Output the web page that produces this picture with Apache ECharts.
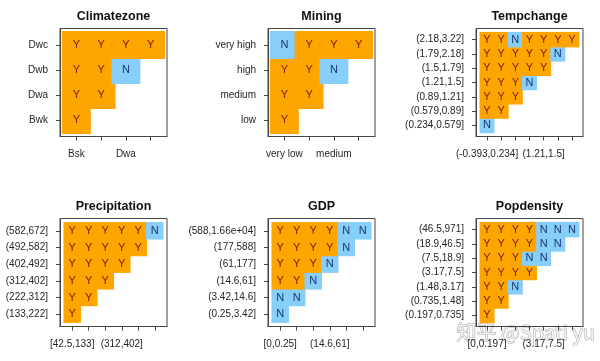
<!DOCTYPE html>
<html>
<head>
<meta charset="utf-8">
<script src="https://cdn.jsdelivr.net/npm/echarts@6/dist/echarts.min.js"></script>
<style>
html,body{margin:0;padding:0;background:#fff;}
#chart{width:600px;height:361px;}
</style>
</head>
<body>
<div id="chart"></div>
<script>
// ---- data (rows listed bottom to top; cells per row left to right) ----
const climTitle = 'Climatezone';
const climCols = ['Bsk', 'Bwk', 'Dwa', 'Dwb'];
const climRows = ['Bwk', 'Dwa', 'Dwb', 'Dwc'];
const climCells = [['Y'], ['Y', 'Y'], ['Y', 'Y', 'N'], ['Y', 'Y', 'Y', 'Y']];

const miningTitle = 'Mining';
const miningCols = ['very low', 'low', 'medium', 'high'];
const miningRows = ['low', 'medium', 'high', 'very high'];
const miningCells = [['Y'], ['Y', 'Y'], ['Y', 'Y', 'N'], ['N', 'Y', 'Y', 'Y']];

const tempTitle = 'Tempchange';
const tempCols = ['(-0.393,0.234]', '(0.234,0.579]', '(0.579,0.89]', '(0.89,1.21]', '(1.21,1.5]', '(1.5,1.79]', '(1.79,2.18]'];
const tempRows = ['(0.234,0.579]', '(0.579,0.89]', '(0.89,1.21]', '(1.21,1.5]', '(1.5,1.79]', '(1.79,2.18]', '(2.18,3.22]'];
const tempCells = [['N'], ['Y', 'Y'], ['Y', 'Y', 'Y'], ['Y', 'Y', 'Y', 'N'], ['Y', 'Y', 'Y', 'Y', 'Y'], ['Y', 'Y', 'Y', 'Y', 'Y', 'N'], ['Y', 'Y', 'N', 'Y', 'Y', 'Y', 'Y']];

const precTitle = 'Precipitation';
const precCols = ['[42.5,133]', '(133,222]', '(222,312]', '(312,402]', '(402,492]', '(492,582]'];
const precRows = ['(133,222]', '(222,312]', '(312,402]', '(402,492]', '(492,582]', '(582,672]'];
const precCells = [['Y'], ['Y', 'Y'], ['Y', 'Y', 'Y'], ['Y', 'Y', 'Y', 'Y'], ['Y', 'Y', 'Y', 'Y', 'Y'], ['Y', 'Y', 'Y', 'Y', 'Y', 'N']];

const gdpTitle = 'GDP';
const gdpCols = ['[0,0.25]', '(0.25,3.42]', '(3.42,14.6]', '(14.6,61]', '(61,177]', '(177,588]'];
const gdpRows = ['(0.25,3.42]', '(3.42,14.6]', '(14.6,61]', '(61,177]', '(177,588]', '(588,1.66e+04]'];
const gdpCells = [['N'], ['N', 'N'], ['Y', 'Y', 'N'], ['Y', 'Y', 'Y', 'N'], ['Y', 'Y', 'Y', 'Y', 'N'], ['Y', 'Y', 'Y', 'Y', 'N', 'N']];

const popTitle = 'Popdensity';
const popCols = ['[0,0.197]', '(0.197,0.735]', '(0.735,1.48]', '(1.48,3.17]', '(3.17,7.5]', '(7.5,18.9]', '(18.9,46.5]'];
const popRows = ['(0.197,0.735]', '(0.735,1.48]', '(1.48,3.17]', '(3.17,7.5]', '(7.5,18.9]', '(18.9,46.5]', '(46.5,971]'];
const popCells = [['Y'], ['Y', 'Y'], ['Y', 'Y', 'N'], ['Y', 'Y', 'Y', 'Y'], ['Y', 'Y', 'Y', 'N', 'N'], ['Y', 'Y', 'Y', 'Y', 'N', 'N'], ['Y', 'Y', 'Y', 'Y', 'N', 'N', 'N']];

// x labels R left visible (1-based positions)
const climShown = [1, 3];
const miningShown = [1, 3];
const tempShown = [1, 5];
const precShown = [1, 4];
const gdpShown = [1, 4];
const popShown = [1, 5];

// ---- styling / layout ----
const colYes = '#FFA500';
const colNo = '#87CEFA';
const txtYes = '#7a1f00';
const txtNo = '#1c3770';
const gridLefts = [60, 268, 476];
const gridTops = [28.5, 218.5];
const boxW = 107, boxH = 108;

const panels = [
  [climTitle, climCols, climRows, climCells, climShown, [29, 28]],
  [miningTitle, miningCols, miningRows, miningCells, miningShown, [29, 28]],
  [tempTitle, tempCols, tempRows, tempCells, tempShown, [15, 15.5]],
  [precTitle, precCols, precRows, precCells, precShown, [17.5, 17.5]],
  [gdpTitle, gdpCols, gdpRows, gdpCells, gdpShown, [17.5, 17.5]],
  [popTitle, popCols, popRows, popCells, popShown, [15, 15.5]]
];

const titles = [], grids = [], xAxes = [], yAxes = [], series = [];
panels.forEach((p, i) => {
  const [title, cols, rows, cells, shown, size] = p;
  const n = rows.length;
  const left = gridLefts[i % 3], top = gridTops[Math.floor(i / 3)];
  const ext = 0.04 * n;
  const ticks = [];
  for (let k = 1; k <= n; k++) ticks.push(k);
  titles.push({
    text: title, left: left + boxW / 2, top: top - 18, textAlign: 'center', padding: 0,
    textStyle: { fontFamily: 'Liberation Sans, Arial, sans-serif', fontSize: 12.5, fontWeight: 'bold', color: '#111' }
  });
  grids.push({ left: left, top: top, width: boxW, height: boxH, show: true, borderColor: '#444', borderWidth: 1, backgroundColor: 'transparent' });
  const common = {
    type: 'value', gridIndex: i, min: 0.5 - ext, max: n + 0.5 + ext,
    splitLine: { show: false },
    axisLine: { show: true, lineStyle: { color: '#444', width: 1 } },
    axisTick: { show: true, inside: false, length: 4, lineStyle: { color: '#444' }, customValues: ticks }
  };
  xAxes.push(Object.assign({}, common, {
    axisLabel: {
      customValues: shown, margin: 13, fontSize: 10, color: '#262626',
      fontFamily: 'Liberation Sans, Arial, sans-serif',
      formatter: v => cols[Math.round(v) - 1] || ''
    }
  }));
  yAxes.push(Object.assign({}, common, {
    axisLabel: {
      customValues: ticks, margin: 12, fontSize: 10, color: '#262626',
      fontFamily: 'Liberation Sans, Arial, sans-serif',
      formatter: v => rows[Math.round(v) - 1] || ''
    }
  }));
  const data = [];
  cells.forEach((row, r) => {
    row.forEach((v, c) => {
      data.push({
        value: [c + 1, r + 1, v],
        itemStyle: { color: v === 'Y' ? colYes : colNo, opacity: 1 },
        label: { color: v === 'Y' ? txtYes : txtNo }
      });
    });
  });
  series.push({
    type: 'scatter', xAxisIndex: i, yAxisIndex: i, symbol: 'rect', symbolSize: size,
    silent: true, clip: true, data: data,
    itemStyle: { opacity: 1, borderWidth: 0 },
    label: { show: true, position: 'inside', formatter: q => q.value[2], fontSize: 11, fontFamily: 'Liberation Sans, Arial, sans-serif' },
    emphasis: { disabled: true }
  });
});

const chart = echarts.init(document.getElementById('chart'), null, { renderer: 'canvas' });
chart.setOption({
  animation: false,
  backgroundColor: '#fff',
  title: titles,
  grid: grids,
  xAxis: xAxes,
  yAxis: yAxes,
  series: series,
  graphic: [{
    type: 'text', left: 456, top: 322, silent: true,
    style: { text: '知乎 @Spati yu', font: '20px "Noto Sans CJK SC", sans-serif', fill: 'rgba(255,255,255,0.75)', stroke: 'rgba(150,150,150,0.8)', lineWidth: 1 }
  }]
});
</script>
</body>
</html>
